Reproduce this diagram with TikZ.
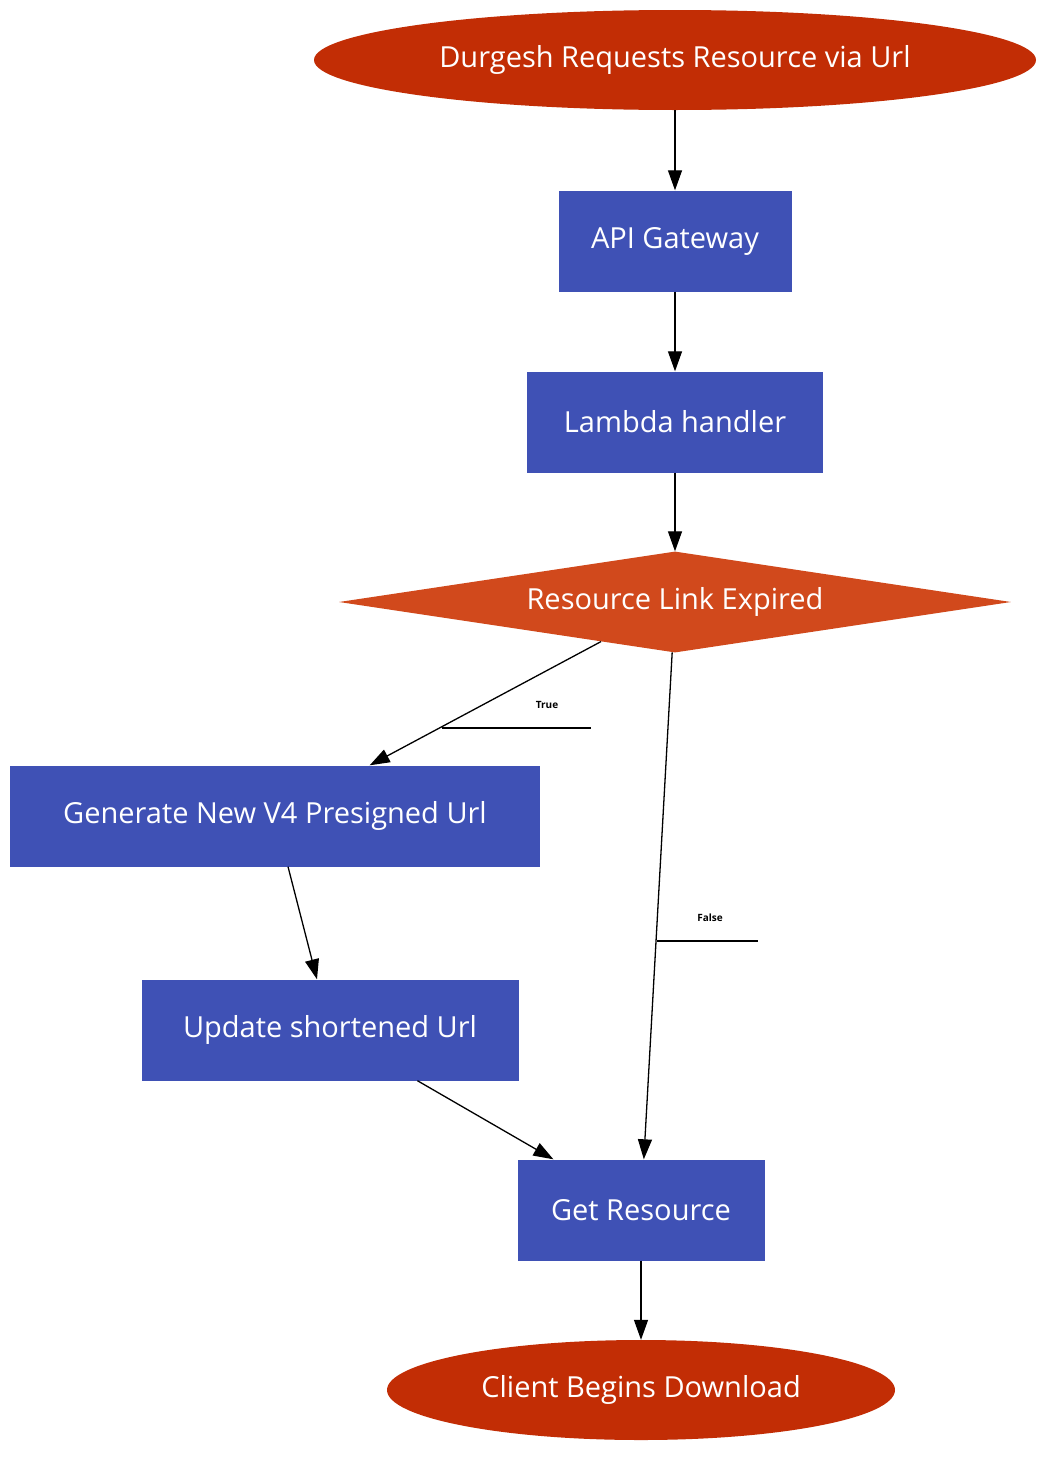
\documentclass[tikz,border=0pt]{standalone}
\usepackage{fontspec}
\setmainfont{Open Sans}
\usetikzlibrary{shapes.geometric,arrows.meta}
\definecolor{gvblue}{RGB}{63,81,181}
\definecolor{gvred}{RGB}{194,45,5}
\definecolor{gvorange}{RGB}{209,73,28}
\tikzset{
  box/.style={rectangle,fill=gvblue,text=white,inner sep=0pt,minimum height=101pt},
  term/.style={ellipse,fill=gvred,text=white,inner sep=0pt,minimum height=100pt},
  test/.style={diamond,fill=gvorange,text=white,inner sep=0pt,aspect=6.65,minimum width=672pt,minimum height=101pt},
  flow/.style={draw,line width=1.3pt,-{Triangle[length=20pt,width=14pt]}},
  elabel/.style={font=\bfseries,inner sep=0pt}
}
\begin{document}
\begin{tikzpicture}[x=1pt,y=-1pt,font=\fontsize{29}{34}\selectfont]
\useasboundingbox (0,0) rectangle (1061,1467);
\node[term,minimum width=722pt] (req) at (675,60) {Durgesh Requests Resource via Url};
\node[box,minimum width=233pt] (api) at (675,241) {API Gateway};
\node[box,minimum width=296pt] (lam) at (675,422) {Lambda handler};
\node[test] (exp) at (675,602) {Resource Link Expired};
\node[box,minimum width=530pt] (gen) at (275,816) {Generate New V4 Presigned Url};
\node[box,minimum width=377pt] (upd) at (330,1030) {Update shortened Url};
\node[box,minimum width=247pt] (get) at (641,1210) {Get Resource};
\node[term,minimum width=508pt] (cli) at (641,1390) {Client Begins Download};
% connectors
\draw[flow] (req) -- (api);
\draw[flow] (api) -- (lam);
\draw[flow] (lam) -- (exp);
\draw[flow] (exp) -- (gen);
\draw[flow] (exp) -- (get);
\draw[flow] (gen) -- (upd);
\draw[flow] (upd) -- (get);
\draw[flow] (get) -- (cli);
% edge labels
\node[elabel] (ltrue) at (547,705) {True};
\node[elabel] (lfalse) at (710,918) {False};
\draw[line width=1.3pt] (442,728) -- (591,728);
\draw[line width=1.3pt] (657,941) -- (758,941);
\end{tikzpicture}
\end{document}
